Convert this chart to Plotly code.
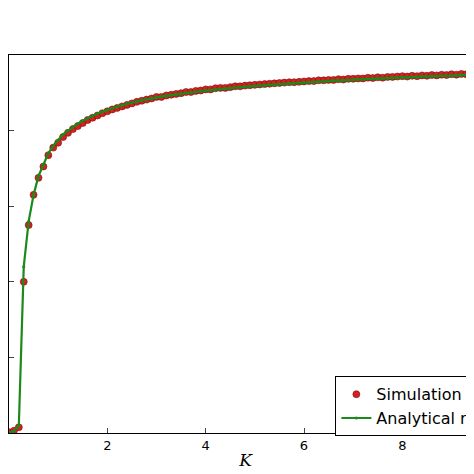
import plotly.graph_objects as go

K = [round(i * 0.1, 1) for i in range(101)]

r_analytical = [
    0.0, 0.005, 0.02, 0.44, 0.56, 0.63, 0.68, 0.71, 0.74, 0.76,
    0.775, 0.79, 0.80, 0.81, 0.818, 0.826, 0.833, 0.839, 0.845, 0.85,
    0.855, 0.859, 0.863, 0.867, 0.871, 0.874, 0.877, 0.880, 0.883, 0.886,
    0.888, 0.890, 0.892, 0.894, 0.896, 0.898, 0.900, 0.901, 0.903, 0.904,
    0.906, 0.907, 0.909, 0.910, 0.911, 0.912, 0.914, 0.915, 0.916, 0.917,
    0.918, 0.919, 0.920, 0.921, 0.922, 0.923, 0.924, 0.925, 0.926, 0.926,
    0.927, 0.928, 0.929, 0.930, 0.930, 0.931, 0.932, 0.933, 0.933, 0.934,
    0.935, 0.935, 0.936, 0.937, 0.937, 0.938, 0.938, 0.939, 0.940, 0.940,
    0.941, 0.941, 0.942, 0.942, 0.943, 0.943, 0.944, 0.944, 0.945, 0.945,
    0.946, 0.946, 0.947, 0.947, 0.947, 0.948, 0.948, 0.949, 0.949, 0.950,
    0.950,
]

r_simulation = [
    0.002, 0.006, 0.015, 0.40, 0.55, 0.63, 0.675, 0.705, 0.735, 0.755,
    0.768, 0.783, 0.794, 0.804, 0.812, 0.820, 0.828, 0.834, 0.840, 0.846,
    0.851, 0.856, 0.860, 0.864, 0.868, 0.872, 0.876, 0.879, 0.882, 0.885,
    0.889, 0.889, 0.893, 0.895, 0.897, 0.899, 0.902, 0.902, 0.905, 0.906,
    0.909, 0.909, 0.912, 0.913, 0.913, 0.915, 0.917, 0.917, 0.919, 0.920,
    0.921, 0.922, 0.923, 0.924, 0.925, 0.926, 0.927, 0.928, 0.928, 0.929,
    0.930, 0.931, 0.931, 0.933, 0.933, 0.934, 0.934, 0.936, 0.935, 0.937,
    0.937, 0.938, 0.938, 0.940, 0.939, 0.941, 0.940, 0.942, 0.942, 0.943,
    0.944, 0.943, 0.945, 0.944, 0.946, 0.945, 0.947, 0.946, 0.948, 0.947,
    0.949, 0.948, 0.950, 0.949, 0.950, 0.950, 0.951, 0.951, 0.952, 0.952,
    0.953,
]

fig = go.Figure()
fig.add_trace(go.Scatter(
    x=K, y=r_simulation, mode="markers", name="Simulation r",
    marker=dict(color="#d62020", size=7, line=dict(color="#7a1010", width=0.6)),
))
fig.add_trace(go.Scatter(
    x=K, y=r_analytical, mode="lines+markers", name="Analytical r",
    line=dict(color="#1a8a1a", width=2.2),
    marker=dict(color="#1a8a1a", size=3),
))

fig.update_layout(
    width=474, height=474,
    margin=dict(l=1, r=0, t=47, b=49),
    plot_bgcolor="white", paper_bgcolor="white",
    font=dict(family="DejaVu Sans", size=13, color="black"),
    legend=dict(x=0.69, y=0.15, xanchor="left", yanchor="top",
                bordercolor="black", borderwidth=1, bgcolor="white",
                font=dict(size=16)),
    xaxis=dict(range=[0, 9.62], showline=True, linecolor="black", mirror=True,
               ticks="inside", ticklen=5, tickvals=[0, 2, 4, 6, 8],
               showgrid=False, zeroline=False, automargin=False,
               title=dict(text="<i>K</i>", font=dict(size=17, family="DejaVu Serif"), standoff=2)),
    yaxis=dict(range=[0, 1], showline=True, linecolor="black", mirror=False,
               ticks="inside", ticklen=5, dtick=0.2, showticklabels=False,
               showgrid=False, zeroline=False, automargin=False),
)

fig.write_html("out.html")
